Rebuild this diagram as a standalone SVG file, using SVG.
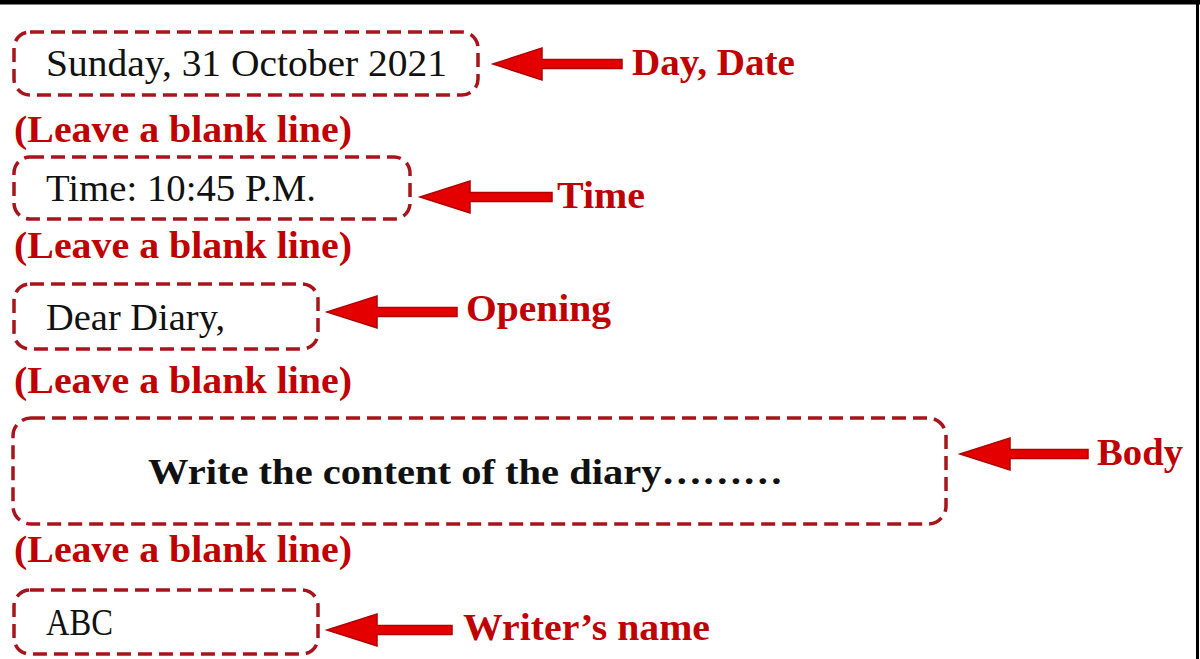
<svg xmlns="http://www.w3.org/2000/svg" width="1200" height="659" viewBox="0 0 1200 659">
<style>
.box{fill:none;stroke:#a8141c;stroke-width:3.5;stroke-dasharray:14 7;}
.txt{font-family:"Liberation Serif","DejaVu Serif",serif;font-size:37px;fill:#111;}
.bold{font-family:"Liberation Serif","DejaVu Serif",serif;font-size:36px;font-weight:bold;fill:#111;}
.red{font-family:"Liberation Serif","DejaVu Serif",serif;font-size:37px;font-weight:bold;fill:#c00000;}
.arrow{fill:#e50000;stroke:#b00000;stroke-width:1.5;stroke-linejoin:miter;}
</style>
<rect x="0" y="0" width="1200" height="659" fill="#ffffff"/>
<g id="frame">
<rect x="0" y="0" width="1200" height="4.5" fill="#000"/>
<rect x="1196" y="0" width="3" height="659" fill="#000"/>
</g>
<g id="node-date">
<rect class="box" x="14" y="32" width="464" height="63" rx="16"/>
<text class="txt" x="46" y="76" textLength="401" lengthAdjust="spacingAndGlyphs">Sunday, 31 October 2021</text>
</g>
<g id="blank-1"><text class="red" x="14" y="142" textLength="338" lengthAdjust="spacingAndGlyphs">(Leave a blank line)</text></g>
<g id="node-time">
<rect class="box" x="14" y="157" width="396" height="62" rx="16"/>
<text class="txt" x="46" y="201" textLength="270" lengthAdjust="spacingAndGlyphs">Time: 10:45 P.M.</text>
</g>
<g id="blank-2"><text class="red" x="14" y="258" textLength="338" lengthAdjust="spacingAndGlyphs">(Leave a blank line)</text></g>
<g id="node-opening">
<rect class="box" x="14" y="284" width="304" height="65" rx="16"/>
<text class="txt" x="46" y="330" textLength="179" lengthAdjust="spacingAndGlyphs">Dear Diary,</text>
</g>
<g id="blank-3"><text class="red" x="14" y="393" textLength="338" lengthAdjust="spacingAndGlyphs">(Leave a blank line)</text></g>
<g id="node-body">
<rect class="box" x="13" y="418" width="933" height="106" rx="18"/>
<text class="bold" x="148" y="484" textLength="635" lengthAdjust="spacingAndGlyphs">Write the content of the diary………</text>
</g>
<g id="blank-4"><text class="red" x="14" y="562" textLength="338" lengthAdjust="spacingAndGlyphs">(Leave a blank line)</text></g>
<g id="node-name">
<rect class="box" x="14" y="590" width="304" height="64" rx="16"/>
<text class="txt" x="46" y="635" textLength="67" lengthAdjust="spacingAndGlyphs">ABC</text>
</g>
<g id="connectors">
<path class="arrow" d="M493,64 L542,48 L542,59.5 L622,59.5 L622,68.5 L542,68.5 L542,80 Z"/>
<path class="arrow" d="M420,197 L470,181 L470,192.5 L552,192.5 L552,201.5 L470,201.5 L470,213 Z"/>
<path class="arrow" d="M327,312 L377,296 L377,307.5 L457,307.5 L457,316.5 L377,316.5 L377,328 Z"/>
<path class="arrow" d="M960,454 L1010,438 L1010,449.5 L1088,449.5 L1088,458.5 L1010,458.5 L1010,470 Z"/>
<path class="arrow" d="M327,630 L377,614 L377,625.5 L452,625.5 L452,634.5 L377,634.5 L377,646 Z"/>
</g>
<g id="label-date"><text class="red" x="632" y="75" textLength="163" lengthAdjust="spacingAndGlyphs">Day, Date</text></g>
<g id="label-time"><text class="red" x="557" y="208" textLength="88" lengthAdjust="spacingAndGlyphs">Time</text></g>
<g id="label-opening"><text class="red" x="466" y="321" textLength="145" lengthAdjust="spacingAndGlyphs">Opening</text></g>
<g id="label-body"><text class="red" x="1097" y="465" textLength="86" lengthAdjust="spacingAndGlyphs">Body</text></g>
<g id="label-name"><text class="red" x="463" y="640" textLength="247" lengthAdjust="spacingAndGlyphs">Writer’s name</text></g>
</svg>
